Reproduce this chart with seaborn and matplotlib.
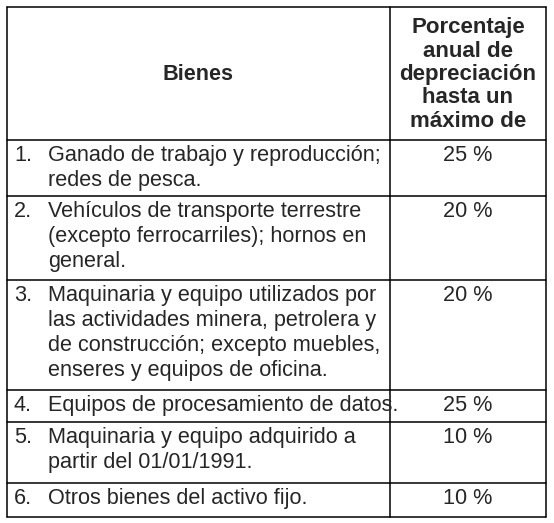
import matplotlib.pyplot as plt
import seaborn as sns

sns.set_style("white")
plt.rcParams['font.family'] = ['Liberation Sans', 'DejaVu Sans']

numeros = ["1.", "2.", "3.", "4.", "5.", "6."]
bienes = [
    "Ganado de trabajo y reproducción;\nredes de pesca.",
    "Vehículos de transporte terrestre\n(excepto ferrocarriles); hornos en\ngeneral.",
    "Maquinaria y equipo utilizados por\nlas actividades minera, petrolera y\nde construcción; excepto muebles,\nenseres y equipos de oficina.",
    "Equipos de procesamiento de datos.",
    "Maquinaria y equipo adquirido a\npartir del 01/01/1991.",
    "Otros bienes del activo fijo.",
]
porcentajes = ["25 %", "20 %", "20 %", "25 %", "10 %", "10 %"]
encabezados = ["Bienes", "Porcentaje\nanual de\ndepreciación\nhasta un\nmáximo de"]

# row boundaries in pixels (layout)
filas = [7, 140, 196, 280, 390, 422, 483, 517]
x0, xdiv, x1 = 7, 390, 546

fig = plt.figure(figsize=(5.54, 5.23), dpi=100)
ax = fig.add_axes([0, 0, 1, 1])
ax.set_xlim(0, 554)
ax.set_ylim(523, 0)
ax.axis("off")

lw = 1.1
for y in filas:
    ax.plot([x0, x1], [y, y], color="black", lw=lw)
for x in (x0, xdiv, x1):
    ax.plot([x, x], [filas[0], filas[-1]], color="black", lw=lw)

fs = 15.6
ax.text((x0 + xdiv) / 2, (filas[0] + filas[1]) / 2 + 1, encabezados[0],
        ha="center", va="center", fontsize=fs, fontweight="bold")
ax.text((xdiv + x1) / 2, (filas[0] + filas[1]) / 2 + 1, encabezados[1],
        ha="center", va="center", fontsize=16, fontweight="bold", linespacing=1.15)

for i, (n, b, p) in enumerate(zip(numeros, bienes, porcentajes)):
    top = filas[i + 1] + 5
    ax.text(14, top, n, ha="left", va="top", fontsize=fs)
    ax.text(48, top, b, ha="left", va="top", fontsize=fs, linespacing=1.25)
    ax.text((xdiv + x1) / 2, top, p, ha="center", va="top", fontsize=fs)

fig.savefig("out.png", dpi=100, facecolor="white")
